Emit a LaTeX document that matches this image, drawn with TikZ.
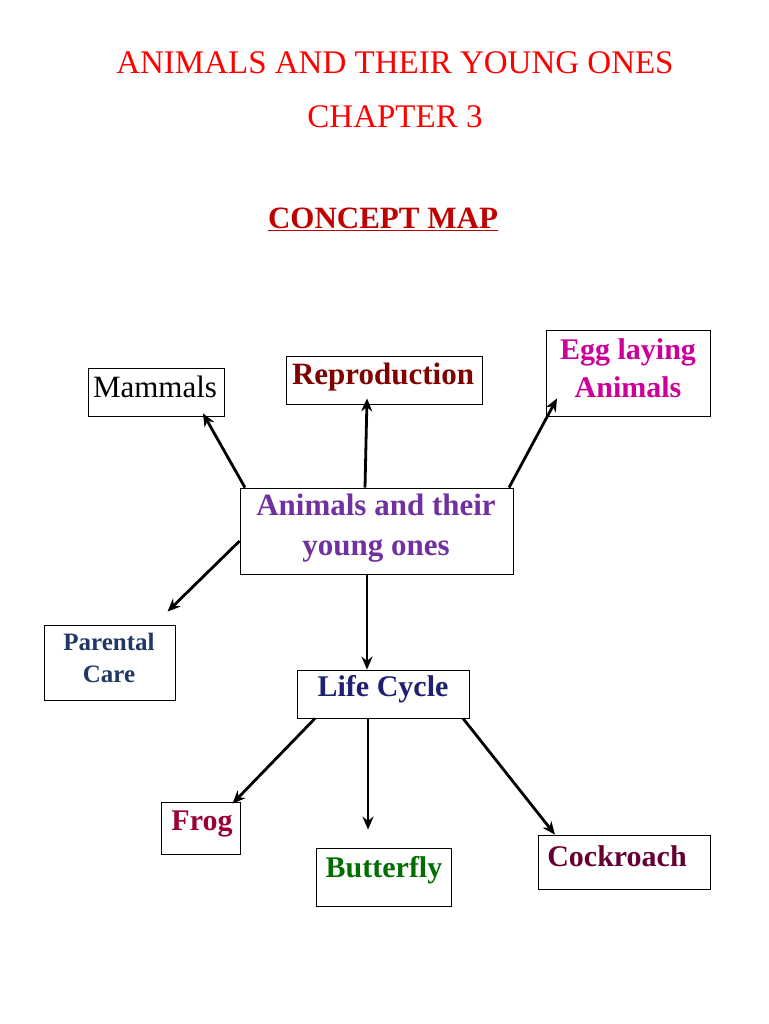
\documentclass[tikz,border=0pt]{standalone}
\usepackage{fontspec}
\setmainfont{Liberation Serif}
\usetikzlibrary{arrows.meta,positioning}
\definecolor{repred}{RGB}{128,0,0}
\definecolor{eggpink}{RGB}{204,0,153}
\definecolor{mainpurple}{RGB}{112,48,160}
\definecolor{careblue}{RGB}{31,56,100}
\definecolor{lifenavy}{RGB}{32,32,112}
\definecolor{frogred}{RGB}{153,0,51}
\definecolor{flygreen}{RGB}{0,110,0}
\definecolor{roachred}{RGB}{102,0,51}
\definecolor{mapred}{RGB}{192,0,0}
\begin{document}
\begin{tikzpicture}[x=1pt,y=-1pt,
   link/.style={-{Stealth[length=13pt,width=11pt]},line width=2.8pt},
   box/.style={draw,line width=0.8pt,rectangle,align=center,inner sep=0pt},
   lbl/.style={font=\fontsize{29}{39}\selectfont\bfseries}]
 \useasboundingbox (0,0) rectangle (768,1024);
 \node[red,font=\fontsize{33}{38}\selectfont] (title) at (395,63) {ANIMALS AND THEIR YOUNG ONES};
 \node[red,font=\fontsize{33}{38}\selectfont] (chap) at (395,117) {CHAPTER 3};
 \node[mapred,font=\fontsize{31}{36}\selectfont\bfseries] (map) at (383,219) {\underline{CONCEPT MAP}};

 \node[box,minimum width=273,minimum height=86] (ctr) at (376.5,531) {};
 \node[lbl,mainpurple,align=center,font=\fontsize{31}{40}\selectfont\bfseries] at (376,528) {Animals and their\\young ones};
 \node[box,minimum width=136,minimum height=48] (mam) at (156,392) {};
 \node[font=\fontsize{31}{36}\selectfont] at (155,387) {Mammals};
 \node[box,minimum width=196,minimum height=48] (rep) at (384,380) {};
 \node[lbl,repred,font=\fontsize{31}{36}\selectfont\bfseries] at (383,377) {Reproduction};
 \node[box,minimum width=164,minimum height=86] (egg) at (628,373) {};
 \node[lbl,eggpink,align=center,font=\fontsize{30}{38}\selectfont\bfseries] at (628,368) {Egg laying\\Animals};
 \node[box,minimum width=131,minimum height=75] (care) at (109.5,662.5) {};
 \node[careblue,font=\fontsize{25}{32}\selectfont\bfseries,align=center] at (109,658) {Parental\\Care};
 \node[box,minimum width=172,minimum height=48] (life) at (383,694) {};
 \node[lbl,lifenavy,font=\fontsize{30}{36}\selectfont\bfseries] at (383,689) {Life Cycle};
 \node[box,minimum width=79,minimum height=52] (frog) at (200.5,828) {};
 \node[lbl,frogred,font=\fontsize{30}{36}\selectfont\bfseries] at (202,824) {Frog};
 \node[box,minimum width=135,minimum height=58] (fly) at (383.5,877) {};
 \node[lbl,flygreen,font=\fontsize{30}{36}\selectfont\bfseries] at (384,870) {Butterfly};
 \node[box,minimum width=172,minimum height=54] (roach) at (624,862) {};
 \node[lbl,roachred,font=\fontsize{30}{36}\selectfont\bfseries] at (617,856) {Cockroach};

 \draw[link] ([xshift=-131.5]ctr.north) -- ([xshift=47,yshift=3]mam.south);
 \draw[link] ([xshift=-11.5]ctr.north) -- ([xshift=-17,yshift=6]rep.south);
 \draw[link] ([xshift=132.5]ctr.north) -- ([xshift=-71,yshift=18]egg.south);
 \draw[link] ([yshift=-10]ctr.west) -- ([xshift=58,yshift=13]care.north);
 \draw[link] ([xshift=-9.5]ctr.south) -- ([xshift=-16]life.north);
 \draw[link] ([xshift=-68]life.south) -- ([xshift=32,yshift=-2]frog.north);
 \draw[link] ([xshift=-15]life.south) -- ([xshift=-15.5,yshift=18]fly.north);
 \draw[link] ([xshift=80]life.south) -- ([xshift=-69]roach.north);
\end{tikzpicture}
\end{document}
